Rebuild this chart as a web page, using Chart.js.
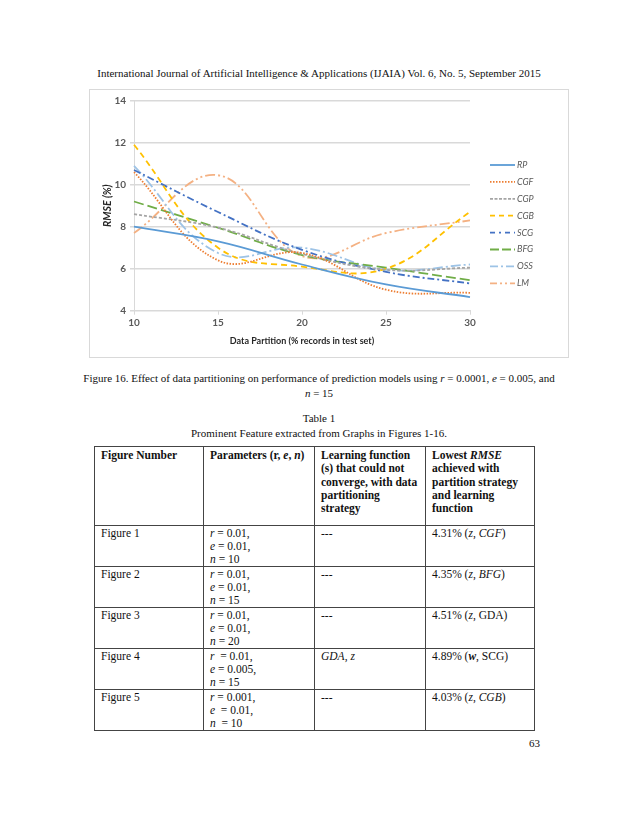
<!DOCTYPE html>
<html>
<head>
<meta charset="utf-8">
<script src="https://cdn.jsdelivr.net/npm/chart.js@4.4.1/dist/chart.umd.min.js"></script>
<style>
    body { margin: 0; background: #fff; }
    #page { position: relative; width: 638px; height: 826px; font-family: "Liberation Serif", "Times New Roman", serif; color: #111; }
    .line { position: absolute; left: 0; width: 638px; text-align: center; font-size: 11px; line-height: 14px; white-space: nowrap; }
    #frame { position: absolute; left: 89px; top: 89px; width: 480px; height: 269px; border: 1px solid #d9d9d9; box-sizing: border-box; }
    #chartBox { position: absolute; left: 89px; top: 89px; width: 480px; height: 269px; }
    table { position: absolute; left: 94px; top: 446px; width: 440px; table-layout: fixed; border-collapse: collapse; font-size: 11.5px; line-height: 13px; }
    td, th { border: 1px solid #444; vertical-align: top; text-align: left; padding: 1px 2px 0 6px; white-space: nowrap; overflow: hidden; }
    th { padding-top: 2px; line-height: 13.3px; }
    .pn { position: absolute; left: 0; width: 540px; top: 736px; text-align: right; font-size: 11px; line-height: 14px; }
</style>
</head>
<body>
<div id="page">
    <div class="line" style="top:66px">International Journal of Artificial Intelligence &amp; Applications (IJAIA) Vol. 6, No. 5, September 2015</div>
    <div id="frame"></div>
    <div id="chartBox"><canvas id="chart"></canvas></div>
    <div class="line" style="top:371px">Figure 16. Effect of data partitioning on performance of prediction models using <i>r</i> = 0.0001, <i>e</i> = 0.005, and</div>
    <div class="line" style="top:386px"><i>n</i> = 15</div>
    <div class="line" style="top:411px">Table 1</div>
    <div class="line" style="top:426px">Prominent Feature extracted from Graphs in Figures 1-16.</div>
    <table>
        <colgroup><col style="width:109px"><col style="width:111px"><col style="width:111px"><col style="width:109px"></colgroup>
        <tr style="height:79px">
            <th>Figure Number</th>
            <th>Parameters (r, <i>e</i>, <i>n</i>)</th>
            <th>Learning function<br>(s) that could not<br>converge, with data<br>partitioning<br>strategy</th>
            <th>Lowest <i>RMSE</i><br>achieved with<br>partition strategy<br>and learning<br>function</th>
        </tr>
        <tr style="height:41px">
            <td>Figure 1</td>
            <td><i>r</i> = 0.01,<br><i>e</i> = 0.01,<br><i>n</i> = 10</td>
            <td>---</td>
            <td>4.31% (<i>z</i>, <i>CGF</i>)</td>
        </tr>
        <tr style="height:40px">
            <td>Figure 2</td>
            <td><i>r</i> = 0.01,<br><i>e</i> = 0.01,<br><i>n</i> = 15</td>
            <td>---</td>
            <td>4.35% (<i>z</i>, <i>BFG</i>)</td>
        </tr>
        <tr style="height:40px">
            <td>Figure 3</td>
            <td><i>r</i> = 0.01,<br><i>e</i> = 0.01,<br><i>n</i> = 20</td>
            <td>---</td>
            <td>4.51% (<i>z</i>, GDA)</td>
        </tr>
        <tr style="height:40px">
            <td>Figure 4</td>
            <td><i>r</i> &nbsp;= 0.01,<br><i>e</i> = 0.005,<br><i>n</i> = 15</td>
            <td><i>GDA</i>, <i>z</i></td>
            <td>4.89% (<b><i>w</i></b>, SCG)</td>
        </tr>
        <tr style="height:40px">
            <td>Figure 5</td>
            <td><i>r</i> = 0.001,<br><i>e</i> &nbsp;= 0.01,<br><i>n</i> &nbsp;= 10</td>
            <td>---</td>
            <td>4.03% (<i>z</i>, <i>CGB</i>)</td>
        </tr>
    </table>
    <div class="pn">63</div>
</div>
<script>
// Data (RMSE % per partition)
const partitions = ['10', '15', '20', '25', '30'];
const seriesNames = ['RP', 'CGF', 'CGP', 'CGB', 'SCG', 'BFG', 'OSS', 'LM'];
const rp  = [8.0, 7.3, 6.2, 5.25, 4.65];
const cgf = [10.6, 6.4, 6.75, 5.0, 4.85];
const cgp = [8.6, 7.95, 6.7, 5.95, 6.05];
const cgb = [11.9, 7.0, 6.1, 6.0, 8.7];
const scg = [10.7, 8.7, 6.9, 5.85, 5.3];
const bfg = [9.2, 7.95, 6.65, 6.05, 5.45];
const oss = [10.9, 6.75, 7.0, 5.95, 6.2];
const lm  = [7.7, 10.45, 6.6, 7.7, 8.3];

const seriesValues = [rp, cgf, cgp, cgb, scg, bfg, oss, lm];
const colors = ['#5B9BD5', '#ED7D31', '#A5A5A5', '#FFC000', '#4472C4', '#70AD47', '#9DC3E6', '#F4B183'];
const dashes = [[], [1.5, 1.5], [3, 2], [6, 4], [7, 3, 2, 3], [10, 4], [10, 3, 2, 3], [10, 3, 2, 3, 2, 3]];
const legendDashes = [[], [1.5, 1.5], [3, 1.5], [5, 4], [5, 4, 2, 4], [9, 3], [8, 3, 2, 3], [7, 3, 2, 3, 2, 3]];

const FONT = 'Lato';
const AXIS_COLOR = '#595959';

// Legend drawn beside the plot, reading styles from the datasets
const sideLegend = {
    id: 'sideLegend',
    afterDraw(chart) {
        const ctx = chart.ctx;
        const x0 = chart.chartArea.right + 20;
        chart.data.datasets.forEach((ds, i) => {
            const y = 76 + i * 16.9;
            ctx.save();
            ctx.strokeStyle = ds.borderColor;
            ctx.lineWidth = ds.borderWidth;
            ctx.setLineDash(legendDashes[i]);
            ctx.beginPath();
            ctx.moveTo(x0, y);
            ctx.lineTo(x0 + 25, y);
            ctx.stroke();
            ctx.setLineDash([]);
            ctx.fillStyle = AXIS_COLOR;
            ctx.font = 'italic 9px ' + FONT;
            ctx.textBaseline = 'middle';
            ctx.fillText(ds.label, x0 + 27, y);
            ctx.restore();
        });
    }
};

new Chart(document.getElementById('chart'), {
    type: 'line',
    data: {
        labels: partitions,
        datasets: seriesNames.map((name, i) => ({
            label: name,
            data: seriesValues[i],
            borderColor: colors[i],
            backgroundColor: colors[i],
            borderWidth: 1.8,
            borderDash: dashes[i],
            pointRadius: 0,
            tension: 0.4,
            fill: false
        }))
    },
    options: {
        responsive: true,
        maintainAspectRatio: false,
        animation: false,
        layout: { padding: { left: 0, right: 99, top: 11.7, bottom: 0 } },
        plugins: {
            legend: { display: false },
            tooltip: { enabled: false }
        },
        scales: {
            x: {
                type: 'category',
                offset: false,
                grid: { display: true, drawOnChartArea: false, color: '#d9d9d9', tickLength: 4 },
                border: { display: true, color: '#d9d9d9' },
                ticks: { color: AXIS_COLOR, font: { family: FONT, size: 10, weight: 'bold' }, padding: 2, maxRotation: 0 },
                title: {
                    display: true,
                    text: 'Data Partition (% records in test set)',
                    color: '#262626',
                    font: { family: FONT, size: 9, weight: 'bold' },
                    padding: { top: 0, bottom: 12 }
                },
                afterFit: (scale) => { scale.height = 47.3; }
            },
            y: {
                min: 4,
                max: 14,
                ticks: { stepSize: 2, color: AXIS_COLOR, font: { family: FONT, size: 10, weight: 'bold' }, padding: 4 },
                grid: { color: '#d9d9d9', lineWidth: 1.5, tickLength: 4 },
                border: { display: true, color: '#d9d9d9' },
                title: {
                    display: true,
                    text: 'RMSE (%)',
                    color: '#262626',
                    font: { family: FONT, size: 10.5, weight: 'bold', style: 'italic' },
                    padding: { top: 12, bottom: 0 }
                },
                afterFit: (scale) => { scale.width = 45; }
            }
        }
    },
    plugins: [sideLegend]
});
</script>
</body>
</html>
